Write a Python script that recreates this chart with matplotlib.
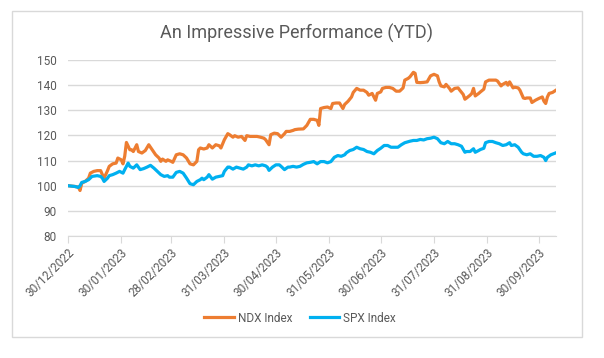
import numpy as np
import pandas as pd
import matplotlib
matplotlib.use("Agg")
import matplotlib.pyplot as plt
import matplotlib.dates as mdates
from matplotlib.patches import Rectangle

start = pd.Timestamp("2022-12-30")

# days since 30/12/2022 and rebased index level
ndx_day = [0, 4, 6, 7, 8, 10, 12, 13, 15, 17, 19, 20, 21, 23, 24, 26, 28, 29, 31, 32,
           33, 34, 36, 37, 38, 40, 41, 43, 45, 47, 49, 51, 53, 54, 55, 57, 58, 60, 61, 63,
           65, 67, 69, 71, 73, 75, 76, 77, 79, 81, 82, 84, 86, 88, 89, 91, 93, 94, 96, 97,
           99, 101, 103, 104, 106, 108, 110, 112, 114, 115, 117, 118, 120, 122, 124, 126, 127, 129, 131, 132,
           134, 137, 139, 141, 143, 145, 146, 147, 149, 151, 153, 154, 156, 158, 160, 161, 163, 165, 166, 168,
           170, 172, 174, 175, 177, 178, 179, 180, 182, 183, 185, 187, 189, 191, 193, 195, 196, 198, 199, 201,
           202, 203, 205, 207, 209, 211, 213, 215, 216, 217, 219, 220, 222, 223, 225, 227, 228, 230, 231, 232,
           234, 235, 236, 237, 239, 240, 242, 243, 245, 247, 249, 250, 252, 253, 255, 256, 257, 259, 260, 262,
           263, 265, 266, 267, 269, 270, 272, 274, 276, 277, 278, 279, 280, 282, 284]
ndx = [100, 99.7, 99.5, 98.1, 101, 101.7, 103, 105, 105.7, 106, 106, 104.4, 103, 106, 107.7, 108.7, 109, 111, 110.3, 108.7,
       111.7, 117.2, 114.3, 114.3, 113.6, 116.3, 113.6, 113, 114, 116.3, 114.3, 112.3, 111, 109.7, 110.6, 109.7, 110.3, 109.7, 109.3, 112.3,
       112.7, 112.3, 111, 108.7, 108.3, 109.7, 114.3, 115, 114.6, 115, 116.3, 115, 116.3, 115.9, 115, 118.3, 120.7, 120.3, 119.3, 119.9,
       119.3, 119.6, 118, 119.9, 119.6, 119.6, 119.6, 119.3, 118.9, 118.3, 116.3, 120.3, 120.9, 120.7, 119.3, 120.7, 121.6, 121.6, 122, 122.3,
       122.5, 122.6, 124, 126.4, 126.4, 126, 124, 130.7, 131.1, 131.3, 130.7, 132.7, 132.9, 132.9, 130.7, 132.3, 133.6, 135.3, 137.1, 138.7,
       138, 138, 137.1, 136, 136.7, 135.3, 134, 136.7, 137.3, 138.7, 139.1, 139.1, 138.7, 137.6, 137.6, 138.9, 142, 142.7, 143.3, 145.1,
       144.7, 141.1, 141, 141.1, 141.3, 143.7, 144.3, 143.7, 141.3, 139.7, 139.3, 140.3, 138.7, 137.6, 138.7, 138.9, 138, 136.3, 134.4, 134.9,
       136, 136.7, 138.7, 135.7, 136.7, 137.3, 138.4, 141.3, 142, 142, 142, 141.6, 139.7, 140.3, 141.1, 140, 141.3, 138.9, 139.2, 138.9,
       138, 134.9, 134.7, 134.9, 134.9, 133.1, 134, 134.7, 135.3, 133.6, 132.7, 135.3, 136.7, 137.1, 138]

spx_day = [0, 4, 6, 7, 8, 10, 12, 14, 17, 19, 20, 21, 23, 24, 26, 28, 30, 32, 33, 35,
           36, 38, 40, 42, 44, 46, 48, 50, 52, 54, 56, 58, 59, 61, 63, 65, 67, 69, 71, 73,
           75, 77, 78, 79, 81, 82, 84, 86, 88, 90, 91, 93, 94, 96, 98, 100, 102, 104, 105, 107,
           109, 111, 113, 115, 116, 117, 119, 121, 123, 124, 126, 128, 129, 131, 133, 135, 137, 139, 141, 143,
           145, 147, 149, 151, 153, 155, 157, 159, 161, 162, 164, 166, 168, 170, 172, 174, 176, 178, 180, 182,
           184, 186, 188, 190, 192, 194, 196, 197, 199, 201, 203, 205, 207, 209, 211, 213, 215, 217, 219, 221,
           223, 225, 227, 229, 231, 232, 234, 236, 237, 239, 240, 242, 243, 245, 247, 249, 251, 253, 255, 257,
           258, 260, 262, 264, 265, 267, 269, 271, 273, 275, 277, 278, 279, 281, 284]
spx = [100, 99.7, 99.3, 100, 101.3, 101.7, 102.4, 103.7, 104, 103.7, 103, 101.7, 103, 104, 104.4, 105, 105.7, 105, 106.4, 109,
       107.7, 107, 108.3, 106.4, 106.8, 107.4, 108.1, 107, 105.7, 104.4, 103.7, 104, 103.4, 103.4, 105.3, 105.7, 105, 103, 100.8, 100.4,
       101.7, 102.4, 103, 102.4, 103.4, 104.4, 102.6, 103.4, 103.7, 104, 105.7, 107.4, 107.4, 106.6, 107.4, 107, 106.6, 107.4, 108.3, 107.9,
       108.3, 107.9, 108.3, 107.9, 107.4, 106.1, 107.4, 108.3, 108.3, 107.7, 106.4, 107.4, 107.4, 107.7, 107.4, 107.7, 108.5, 109.1, 109.3, 109.6,
       108.7, 109.6, 109.6, 109.1, 109.6, 111.3, 112, 111.7, 112.3, 113.1, 114, 114.4, 115.3, 114.7, 114.4, 113.6, 113.3, 112.7, 114, 114.9,
       116, 116, 115.3, 115.3, 115.3, 116.3, 117.1, 117.3, 117.7, 118, 118, 118.4, 118.2, 118.7, 118.9, 119.3, 118.7, 117.1, 116.7, 117.6,
       116.7, 116.7, 116.3, 115.7, 113.3, 113.6, 113.6, 114.7, 113.3, 114, 114.4, 114.9, 117.1, 117.6, 117.6, 117.1, 116.7, 116, 116.3, 117.1,
       116, 116.3, 115.3, 113.3, 112.7, 112.3, 112.7, 111.7, 111.7, 112, 111.3, 110, 111.3, 112.3, 113.1]

tick_dates = ["2022-12-30", "2023-01-30", "2023-02-28", "2023-03-31", "2023-04-30",
              "2023-05-31", "2023-06-30", "2023-07-31", "2023-08-31", "2023-09-30"]
series_names = ["NDX Index", "SPX Index"]
title = "An Impressive Performance (YTD)"

ndx_dates = start + pd.to_timedelta(ndx_day, unit="D")
spx_dates = start + pd.to_timedelta(spx_day, unit="D")

plt.rcParams['font.family'] = ['Roboto', 'DejaVu Sans']
txt = "#595959"
grid = "#d9d9d9"

fig = plt.figure(figsize=(6.04, 3.58), dpi=100)
fig.patches.append(Rectangle((12 / 604, 1 - 337 / 358), 570 / 604, 326 / 358,
                             transform=fig.transFigure, fill=False, edgecolor=grid, lw=1))

ax = fig.add_axes([68 / 604, 1 - 236 / 358, 488 / 604, 176 / 358])
ax.plot(ndx_dates, ndx, color="#ED7D31", lw=2.3, label=series_names[0], solid_joinstyle="round")
ax.plot(spx_dates, spx, color="#00B0F0", lw=2.3, label=series_names[1], solid_joinstyle="round")

ax.set_ylim(80, 150)
ax.set_yticks(np.arange(80, 151, 10))
ax.set_xlim(start, pd.Timestamp("2023-10-10"))
ax.set_xticks(pd.to_datetime(tick_dates))
ax.xaxis.set_major_formatter(mdates.DateFormatter("%d/%m/%Y"))
ax.grid(axis="y", color=grid, lw=1)
ax.set_axisbelow(True)
for s in ["top", "right", "left"]:
    ax.spines[s].set_visible(False)
ax.spines["bottom"].set_color(grid)
ax.tick_params(axis="y", length=0, labelsize=8.5, labelcolor=txt, pad=8)
ax.tick_params(axis="x", length=5, color=grid, labelsize=8.5, labelcolor=txt, pad=2)
for lab in ax.get_xticklabels():
    lab.set_rotation(45)
    lab.set_ha("right")
    lab.set_rotation_mode("anchor")

fig.text(297 / 604, 1 - 33 / 358, title, ha="center", va="center", fontsize=13, color=txt)
fig.legend(loc="center", bbox_to_anchor=(300 / 604, 1 - 318 / 358), ncol=2, frameon=False,
           fontsize=8.5, labelcolor=txt, handlelength=2.5, handletextpad=0.3, columnspacing=1.5)

fig.savefig("out.png", dpi=100)
